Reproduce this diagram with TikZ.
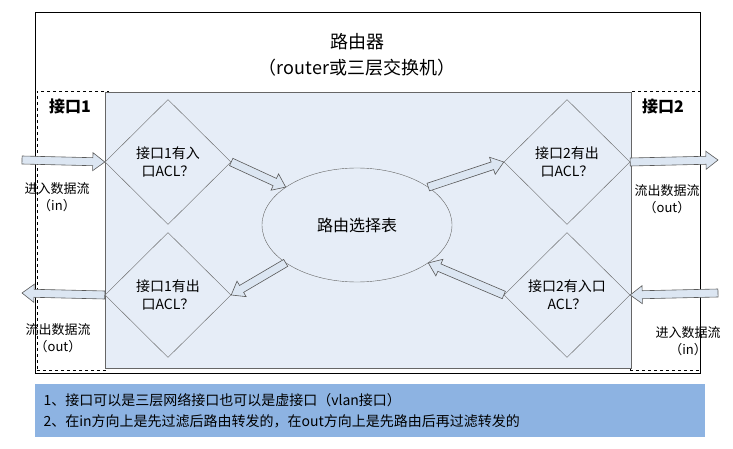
\documentclass[tikz,border=0pt]{standalone}
\usepackage{fontspec}
\setmainfont{Liberation Serif}
\newfontfamily\cjk{Noto Sans CJK SC}
\usetikzlibrary{shapes.geometric,calc}
\definecolor{panel}{HTML}{E6EDF7}
\definecolor{note}{HTML}{8DB3E2}
\definecolor{arr}{HTML}{DCE6F2}
\tikzset{
  dia/.style={diamond,draw=gray!80!black,fill=panel,minimum width=126pt,minimum height=125pt,inner sep=0pt,align=center,font=\cjk\fontsize{14}{18}\selectfont},
  lbl/.style={font=\cjk\fontsize{13}{17}\selectfont,align=center,inner sep=0pt},
  hollowarrow/.style={draw=gray!70!black,fill=arr,line width=0.6pt}
}
\newcommand\harrow[2]{%
  \path let \p1=(#1), \p2=(#2), \n1={atan2(\y2-\y1,\x2-\x1)}, \n2={veclen(\x2-\x1,\y2-\y1)} in
  [shift={(\p1)}, rotate=\n1]
  [hollowarrow] (0pt,4pt) -- (\n2-12pt,4pt) -- (\n2-12pt,9pt) -- (\n2,0pt) -- (\n2-12pt,-9pt) -- (\n2-12pt,-4pt) -- (0pt,-4pt) -- cycle;}
\begin{document}
\begin{tikzpicture}[x=1pt,y=-1pt]
\useasboundingbox (0,0) rectangle (733,449);
\node[draw=black,line width=0.8pt,minimum width=665pt,minimum height=361pt,inner sep=0,anchor=north west] (outer) at (35,12) {};
\node[draw=black,dashed,minimum width=71pt,minimum height=279pt,inner sep=0,anchor=north west] (if1) at (37,91) {};
\node[draw=black,dashed,minimum width=70pt,minimum height=279pt,inner sep=0,anchor=north west] (if2) at (630,91) {};
\node[draw=gray!80!black,fill=panel,minimum width=526pt,minimum height=276pt,inner sep=0,anchor=north west] (panel) at (105,92) {};
\node[font=\cjk\fontsize{18}{20}\selectfont] (title) at (357,42) {路由器};
\node[font=\cjk\fontsize{18}{20}\selectfont] (title2) at (357,68) {（router或三层交换机）};
\node[font=\cjk\bfseries\fontsize{16}{18}\selectfont] (l1) at (70,106) {接口1};
\node[font=\cjk\bfseries\fontsize{16}{18}\selectfont] (l2) at (663,106) {接口2};
\node[dia] (d1) at (168,162) {接口1有入\\口ACL？};
\node[dia] (d2) at (168,295) {接口1有出\\口ACL？};
\node[dia] (d3) at (567,162) {接口2有出\\口ACL？};
\node[dia] (d4) at (567,295) {接口2有入口\\ACL？};
\node[ellipse,draw=gray!80!black,fill=panel,minimum width=190pt,minimum height=114pt,font=\cjk\fontsize{16}{18}\selectfont] (rt) at (357,225) {路由选择表};
\coordinate (inL) at (22,160);
\coordinate (outL) at (22,293);
\coordinate (outR) at (718,160);
\coordinate (inR) at (718,293);
\harrow{inL}{d1.west}
\harrow{d2.west}{outL}
\harrow{d3.east}{outR}
\harrow{inR}{d4.east}
\harrow{d1.east}{rt.152}
\harrow{rt.208}{d2.east}
\harrow{rt.28}{d3.west}
\harrow{d4.west}{rt.332}
\node[lbl] (t1) at (57,197) {进入数据流\\（in）};
\node[lbl] (t2) at (58,338) {流出数据流\\（out）};
\node[lbl] (t3) at (667,199) {流出数据流\\（out）};
\node[lbl] (t4) at (688,341) {进入数据流\\（in）};
\node[fill=note,minimum width=670pt,minimum height=53pt,inner sep=0,anchor=north west] (notebox) at (35,384) {};
\node[font=\cjk\fontsize{14}{16}\selectfont,anchor=west] (n1) at (40,400) {1、接口可以是三层网络接口也可以是虚接口（vlan接口）};
\node[font=\cjk\fontsize{14}{16}\selectfont,anchor=west] (n2) at (40,421) {2、在in方向上是先过滤后路由转发的，在out方向上是先路由后再过滤转发的};
\end{tikzpicture}
\end{document}
